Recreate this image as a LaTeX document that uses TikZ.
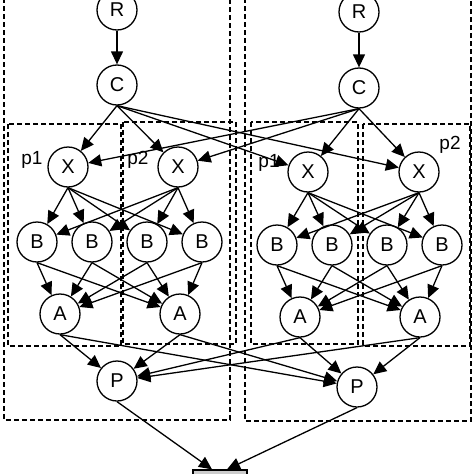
\documentclass[tikz,border=0pt]{standalone}
\usepackage{fontspec}
\setmainfont{Liberation Sans}
\usetikzlibrary{arrows.meta}

\begin{document}
\begin{tikzpicture}[x=1pt, y=-1pt, line width=1.3pt,
    task/.style={draw, circle, minimum size=40pt, inner sep=0pt, font=\fontsize{20}{24}\selectfont},
    plabel/.style={font=\fontsize{19}{22}\selectfont},
    arr/.style={-{Triangle[length=13pt,width=12pt]}},
    part/.style={draw, line width=1.2pt, dash pattern=on 5pt off 3pt}]
    \useasboundingbox (0,0) rectangle (474,474);
    \clip (0,0) rectangle (474,474);

    % outer boxes
    \draw[part] (4,-10) rectangle (230,420);
    \draw[part] (245,-10) rectangle (471,421);
    % partitions
    \draw[part] (8,124) rectangle (121,346);
    \draw[part] (123,122) rectangle (236,344);
    \draw[part] (251,122) rectangle (358,344);
    \draw[part] (363,124) rectangle (470,346);

    \node[plabel] (lp1) at (32,160) {p1};
    \node[plabel] (lp2) at (138,160) {p2};
    \node[plabel] (rp1) at (269,163) {p1};
    \node[plabel] (rp2) at (450,145) {p2};

    % left group
    \node[task] (lR) at (117,10) {R};
    \node[task] (lC) at (117,85) {C};
    \node[task] (lX1) at (68,167) {X};
    \node[task] (lX2) at (178,167) {X};
    \node[task] (lB1) at (37,242) {B};
    \node[task] (lB2) at (92,242) {B};
    \node[task] (lB3) at (147,242) {B};
    \node[task] (lB4) at (202,242) {B};
    \node[task] (lA1) at (60,314) {A};
    \node[task] (lA2) at (180,314) {A};
    \node[task] (lP) at (117,381) {P};

    % right group
    \node[task] (rR) at (359,12) {R};
    \node[task] (rC) at (359,88) {C};
    \node[task] (rX1) at (308,172) {X};
    \node[task] (rX2) at (419,172) {X};
    \node[task] (rB1) at (277,245) {B};
    \node[task] (rB2) at (332,245) {B};
    \node[task] (rB3) at (387,245) {B};
    \node[task] (rB4) at (442,245) {B};
    \node[task] (rA1) at (300,317) {A};
    \node[task] (rA2) at (420,317) {A};
    \node[task] (rP) at (357,387) {P};

    \node[draw, fill=gray!40, minimum width=54pt, minimum height=30pt] (out) at (220,485) {};

    % edges
    \foreach \g in {l,r} {
        \draw[arr] (\g R) -- (\g C);
        \foreach \h in {l,r}
            \foreach \i in {1,2}
                \draw[arr] (\g C.south) -- (\h X\i);
        \foreach \i in {1,2}
            \foreach \j in {1,...,4} {
                \draw[arr] (\g X\i.south) -- (\g B\j);
                \draw[arr] (\g B\j.south) -- (\g A\i);
            }
        \foreach \h in {l,r}
            \foreach \i in {1,2}
                \draw[arr] (\g A\i.south) -- (\h P);
    }
    \draw[arr] (lP.south) -- ([xshift=-8pt]out.north);
    \draw[arr] (rP.south) -- ([xshift=7pt]out.north);
\end{tikzpicture}
\end{document}
